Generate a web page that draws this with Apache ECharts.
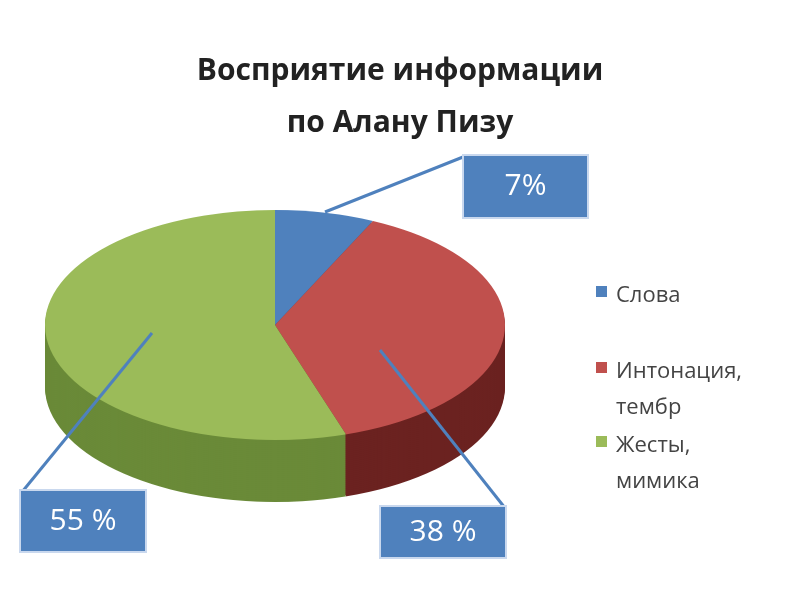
<!DOCTYPE html><html><head><meta charset="utf-8">
<script src="https://cdn.jsdelivr.net/npm/echarts@6/dist/echarts.min.js"></script>
<style>body{margin:0;background:#fff;overflow:hidden}#p,#o{position:absolute;left:0;top:0;width:800px;height:600px}
#p{height:1200px;transform:scaleY(0.5);transform-origin:0 325px}</style></head><body>
<div id="p"></div><div id="o"></div>
<script>
const categories=['Слова','Интонация, тембр','Жесты, мимика'];
const legendLabels=['Слова','Интонация,\nтембр','Жесты,\nмимика'];
const values=[7,38,55];
const valueLabels=['7%','38 %','55 %'];
const topColors=['#4f81bd','#c0504d','#9bbb59'];
const sideColors=['#2e4d75','#6b2220','#6a8a38'];
const data=categories.map((c,i)=>({name:c,value:values[i]}));
const series=[];
const depth=124;
for(let d=depth;d>0;d-=4){
  series.push({type:'pie',silent:true,animation:false,radius:[0,230],center:[275,325+d],label:{show:false},labelLine:{show:false},
    data:data.map((x,i)=>({...x,itemStyle:{color:sideColors[i]}}))});
}
series.push({type:'pie',silent:true,animation:false,radius:[0,230],center:[275,325],label:{show:false},labelLine:{show:false},
  data:data.map((x,i)=>({...x,itemStyle:{color:topColors[i]}}))});
echarts.init(document.getElementById('p')).setOption({series});

const F='"Open Sans", sans-serif';
const boxes=[[463,155,125,63],[380,506,126,52],[20,490,126,62]];
const lines=[[[463,157],[325,212]],[[380,350],[505,508]],[[152,333],[22,492]]];
const g=[];
g.push({type:'text',left:'center',top:45,style:{text:'Восприятие информации\nпо Алану Пизу',font:'bold 30px '+F,fill:'#222',textAlign:'center',lineHeight:52}});
lines.forEach(l=>g.push({type:'polyline',shape:{points:l},style:{stroke:'#4f81bd',lineWidth:3}}));
boxes.forEach((b,i)=>{
  g.push({type:'rect',shape:{x:b[0],y:b[1],width:b[2],height:b[3]},style:{fill:'#4f81bd',stroke:'#c9d8ee',lineWidth:2}});
  g.push({type:'text',x:b[0]+b[2]/2,y:b[1]+b[3]/2,style:{text:valueLabels[i],font:'30px '+F,fill:'#fff',align:'center',verticalAlign:'middle'}});
});
const ly=[292,368,442];
legendLabels.forEach((t,i)=>{
  g.push({type:'rect',shape:{x:596,y:ly[i]-6,width:11,height:11},style:{fill:topColors[i]}});
  g.push({type:'text',x:616,y:ly[i]-14,style:{text:t,font:'22px '+F,fill:'#444',lineHeight:36}});
});
echarts.init(document.getElementById('o')).setOption({graphic:g});
</script></body></html>
